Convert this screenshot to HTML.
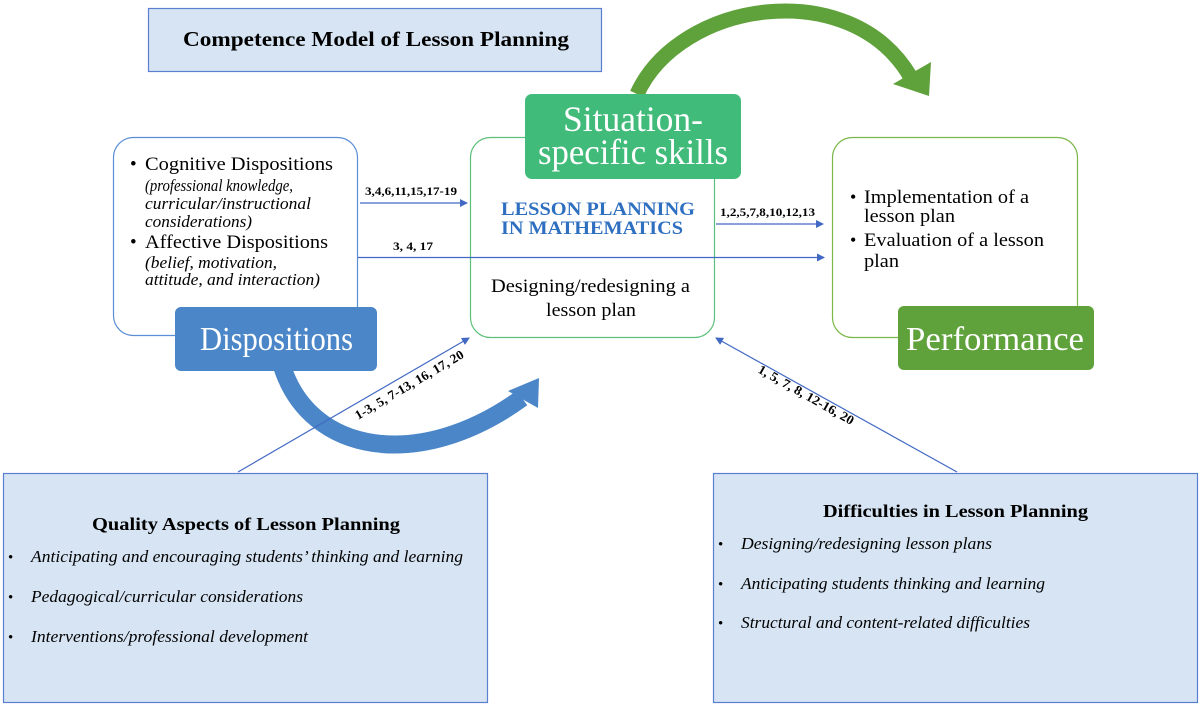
<!DOCTYPE html>
<html><head><meta charset="utf-8"><style>
html,body{margin:0;padding:0;background:#fff;}
svg{display:block;}
text{font-family:"Liberation Serif","Times New Roman",serif;}
</style></head><body>
<svg width="1200" height="705" viewBox="0 0 1200 705" xmlns="http://www.w3.org/2000/svg" font-family="Liberation Serif, serif">
<defs>
<marker id="ah" markerWidth="8" markerHeight="8" refX="7" refY="4" orient="auto" markerUnits="userSpaceOnUse">
<path d="M0,0 L8,4 L0,8 z" fill="#4169c4"/>
</marker>
</defs>
<rect x="148.5" y="8.5" width="453" height="63" fill="#d6e4f3" stroke="#5b7fd0" stroke-width="1.2"/>
<text x="183" y="46" font-size="21" font-weight="bold" textLength="386" lengthAdjust="spacingAndGlyphs">Competence Model of Lesson Planning</text>

<path d="M637 94 C680 0 850 -25 910 76" fill="none" stroke="#5fa13a" stroke-width="15"/>
<polygon points="929,96 893,84 931,62" fill="#5fa13a"/>

<rect x="113.5" y="137.5" width="244" height="198" rx="20" fill="#fff" stroke="#5b8ed6" stroke-width="1.2"/>
<text x="130" y="170" font-size="19">•</text>
<text x="145" y="170" font-size="19" textLength="188" lengthAdjust="spacingAndGlyphs">Cognitive Dispositions</text>
<text x="145" y="191" font-size="17" font-style="italic" textLength="148" lengthAdjust="spacingAndGlyphs">(professional knowledge,</text>
<text x="145" y="209" font-size="17" font-style="italic" textLength="166" lengthAdjust="spacingAndGlyphs">curricular/instructional</text>
<text x="145" y="227" font-size="17" font-style="italic" textLength="107" lengthAdjust="spacingAndGlyphs">considerations)</text>
<text x="130" y="248" font-size="19">•</text>
<text x="145" y="248" font-size="19" textLength="183" lengthAdjust="spacingAndGlyphs">Affective Dispositions</text>
<text x="145" y="268" font-size="17" font-style="italic" textLength="132" lengthAdjust="spacingAndGlyphs">(belief, motivation,</text>
<text x="145" y="285" font-size="17" font-style="italic" textLength="175" lengthAdjust="spacingAndGlyphs">attitude, and interaction)</text>

<rect x="470.5" y="137.5" width="244" height="200" rx="20" fill="#fff" stroke="#5cc07a" stroke-width="1.2"/>
<text x="501" y="215" font-size="19" font-weight="bold" fill="#2f6fc0" textLength="194" lengthAdjust="spacingAndGlyphs">LESSON PLANNING</text>
<text x="501" y="234" font-size="19" font-weight="bold" fill="#2f6fc0" textLength="182" lengthAdjust="spacingAndGlyphs">IN MATHEMATICS</text>
<text x="491" y="292" font-size="19" textLength="199" lengthAdjust="spacingAndGlyphs">Designing/redesigning a</text>
<text x="546" y="316" font-size="19" textLength="90" lengthAdjust="spacingAndGlyphs">lesson plan</text>

<rect x="525" y="94" width="216" height="85" rx="7" fill="#41bb7a"/>
<text x="563" y="131" font-size="36" fill="#fff" textLength="140" lengthAdjust="spacingAndGlyphs">Situation-</text>
<text x="538" y="164" font-size="36" fill="#fff" textLength="190" lengthAdjust="spacingAndGlyphs">specific skills</text>

<rect x="832.5" y="137.5" width="245" height="200" rx="20" fill="#fff" stroke="#7ab648" stroke-width="1.2"/>
<text x="850" y="203" font-size="18">•</text>
<text x="864" y="203" font-size="19" textLength="165" lengthAdjust="spacingAndGlyphs">Implementation of a</text>
<text x="864" y="222" font-size="19" textLength="91" lengthAdjust="spacingAndGlyphs">lesson plan</text>
<text x="850" y="246" font-size="18">•</text>
<text x="864" y="246" font-size="19" textLength="180" lengthAdjust="spacingAndGlyphs">Evaluation of a lesson</text>
<text x="864" y="267" font-size="19" textLength="35" lengthAdjust="spacingAndGlyphs">plan</text>
<rect x="898" y="306" width="196" height="64" rx="6" fill="#5fa13a"/>
<text x="906" y="350" font-size="34" fill="#fff" textLength="178" lengthAdjust="spacingAndGlyphs">Performance</text>

<path d="M282 366 C310 455 420 472 522 398" fill="none" stroke="#4a86c8" stroke-width="18"/>
<polygon points="539,378 508,391 538,408" fill="#4a86c8"/>

<rect x="175" y="307" width="202" height="64" rx="6" fill="#4a86c8"/>
<text x="200" y="350" font-size="34" fill="#fff" textLength="153" lengthAdjust="spacingAndGlyphs">Dispositions</text>

<line x1="360" y1="203" x2="467" y2="203" stroke="#4169c4" stroke-width="1.2" marker-end="url(#ah)"/>
<text x="365" y="195" font-size="12" font-weight="bold" textLength="92" lengthAdjust="spacingAndGlyphs">3,4,6,11,15,17-19</text>
<line x1="358" y1="257.5" x2="824" y2="257.5" stroke="#4169c4" stroke-width="1.2" marker-end="url(#ah)"/>
<text x="393" y="250" font-size="12" font-weight="bold" textLength="40" lengthAdjust="spacingAndGlyphs">3, 4, 17</text>
<line x1="716" y1="224" x2="823" y2="224" stroke="#4169c4" stroke-width="1.2" marker-end="url(#ah)"/>
<text x="720" y="216" font-size="12" font-weight="bold" textLength="95" lengthAdjust="spacingAndGlyphs">1,2,5,7,8,10,12,13</text>

<line x1="238" y1="472" x2="469" y2="338" stroke="#4169c4" stroke-width="1.2" marker-end="url(#ah)"/>
<text transform="translate(358,420) rotate(-30.5)" font-size="13" font-weight="bold" textLength="124" lengthAdjust="spacingAndGlyphs">1-3, 5, 7-13, 16, 17, 20</text>
<line x1="957" y1="472" x2="716" y2="338" stroke="#4169c4" stroke-width="1.2" marker-end="url(#ah)"/>
<text transform="translate(757,372) rotate(29.5)" font-size="13" font-weight="bold" textLength="108" lengthAdjust="spacingAndGlyphs">1, 5, 7, 8, 12-16, 20</text>

<rect x="3.5" y="473.5" width="484" height="229" fill="#d6e4f3" stroke="#5b7fd0" stroke-width="1.2"/>
<text x="92" y="530" font-size="18" font-weight="bold" textLength="308" lengthAdjust="spacingAndGlyphs">Quality Aspects of Lesson Planning</text>
<text x="8" y="562" font-size="15">•</text>
<text x="31" y="562" font-size="17" font-style="italic" textLength="432" lengthAdjust="spacingAndGlyphs">Anticipating and encouraging students’ thinking and learning</text>
<text x="8" y="602" font-size="15">•</text>
<text x="31" y="602" font-size="17" font-style="italic" textLength="272" lengthAdjust="spacingAndGlyphs">Pedagogical/curricular considerations</text>
<text x="8" y="642" font-size="15">•</text>
<text x="31" y="642" font-size="17" font-style="italic" textLength="277" lengthAdjust="spacingAndGlyphs">Interventions/professional development</text>

<rect x="713.5" y="473.5" width="484" height="229" fill="#d6e4f3" stroke="#5b7fd0" stroke-width="1.2"/>
<text x="823" y="517" font-size="18" font-weight="bold" textLength="265" lengthAdjust="spacingAndGlyphs">Difficulties in Lesson Planning</text>
<text x="718" y="549" font-size="15">•</text>
<text x="741" y="549" font-size="17" font-style="italic" textLength="251" lengthAdjust="spacingAndGlyphs">Designing/redesigning lesson plans</text>
<text x="718" y="589" font-size="15">•</text>
<text x="741" y="589" font-size="17" font-style="italic" textLength="304" lengthAdjust="spacingAndGlyphs">Anticipating students thinking and learning</text>
<text x="718" y="628" font-size="15">•</text>
<text x="741" y="628" font-size="17" font-style="italic" textLength="289" lengthAdjust="spacingAndGlyphs">Structural and content-related difficulties</text>
</svg>
</body></html>
